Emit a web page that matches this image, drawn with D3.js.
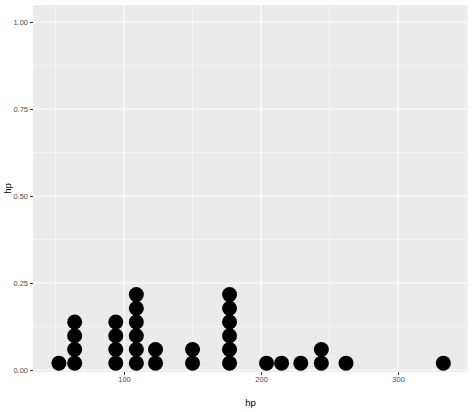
<!DOCTYPE html><html><head><script src="https://cdn.jsdelivr.net/npm/d3@7"></script>
<style>body{margin:0;background:#fff}text{font-family:"Liberation Sans",Arial,sans-serif}</style></head><body>
<svg id="c" width="474" height="412"></svg>
<script>
const binCenters=[52.5,64,94,109,123,150,177,204,215,229,244,262,333];
const binCounts=[1,4,4,6,2,2,6,1,1,1,2,1,1];
const xTicks=[100,200,300];
const yTicks=[0,0.25,0.5,0.75,1];
const yTickLabels=["0.00","0.25","0.50","0.75","1.00"];
const stackStep=0.0394;
const svg=d3.select("#c");
const L=33,R=468,T=5,B=372;
const x=d3.scaleLinear().domain([33.6,351]).range([L,R]);
const y=d3.scaleLinear().domain([-0.005,1.05]).range([B,T]);
y.domain([0-(B-370)/348*1, (370-T)/348]);
svg.append("rect").attr("x",L).attr("y",T).attr("width",R-L).attr("height",B-T).attr("fill","#EBEBEB");
const g=svg.append("g");
[50,150,250,350].forEach(v=>{if(x(v)<=R)g.append("line").attr("x1",x(v)).attr("x2",x(v)).attr("y1",T).attr("y2",B).attr("stroke","#fff").attr("stroke-width",0.5);});
[0.125,0.375,0.625,0.875].forEach(v=>g.append("line").attr("x1",L).attr("x2",R).attr("y1",y(v)).attr("y2",y(v)).attr("stroke","#fff").attr("stroke-width",0.5));
xTicks.forEach(v=>g.append("line").attr("x1",x(v)).attr("x2",x(v)).attr("y1",T).attr("y2",B).attr("stroke","#fff").attr("stroke-width",1.1));
yTicks.forEach(v=>g.append("line").attr("x1",L).attr("x2",R).attr("y1",y(v)).attr("y2",y(v)).attr("stroke","#fff").attr("stroke-width",1.1));
const dots=[];binCenters.forEach((c,i)=>{for(let k=0;k<binCounts[i];k++)dots.push([c,(k+0.5)*stackStep]);});
svg.selectAll("circle").data(dots).join("circle").attr("cx",d=>x(d[0])).attr("cy",d=>y(d[1])).attr("r",7.5).attr("fill","#000");
const xa=svg.append("g").attr("transform",`translate(0,${B})`).call(d3.axisBottom(x).tickValues(xTicks).tickSize(3).tickPadding(2));
const ya=svg.append("g").attr("transform",`translate(${L},0)`).call(d3.axisLeft(y).tickValues(yTicks).tickFormat((d,i)=>yTickLabels[i]).tickSize(3).tickPadding(2));
[xa,ya].forEach(a=>{a.select(".domain").remove();a.selectAll("line").attr("stroke","#333");a.selectAll("text").attr("fill","#4D4D4D").style("font-size","7.5px");});
svg.append("text").attr("x",(L+R)/2).attr("y",406).attr("text-anchor","middle").style("font-size","9.5px").text("hp");
svg.append("text").attr("transform",`translate(11,${(T+B)/2}) rotate(-90)`).attr("text-anchor","middle").style("font-size","9.5px").text("hp");
</script></body></html>
